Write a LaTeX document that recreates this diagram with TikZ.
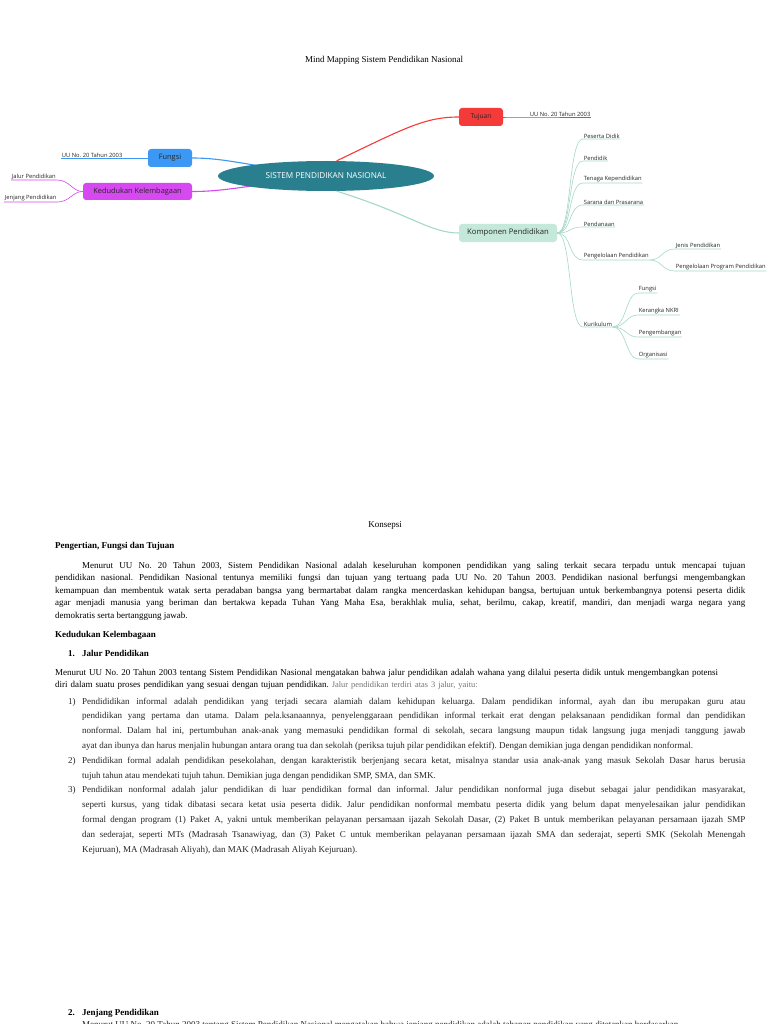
\documentclass[tikz,border=0pt]{standalone}
\usepackage{fontspec}
\setmainfont{Liberation Serif}
\newfontfamily\mapsf{Open Sans}
\usetikzlibrary{shapes.geometric,positioning,backgrounds,calc}
\definecolor{teal1}{RGB}{42,127,143}
\definecolor{blue1}{RGB}{60,152,245}
\definecolor{mag1}{RGB}{214,72,240}
\definecolor{red1}{RGB}{245,58,58}
\definecolor{mint1}{RGB}{196,232,217}
\definecolor{mint2}{RGB}{165,216,200}
\newcommand\bodyf{\fontsize{9}{12.5}\selectfont\spaceskip=.25em plus .6em minus .12em\relax}
\newcommand\listf{\fontsize{9}{14.8}\selectfont\spaceskip=.25em plus .6em minus .12em\relax}
\frenchspacing

\begin{document}
\begin{tikzpicture}[x=1pt,y=-1pt,node distance=4pt]
\tikzstyle{B}=[rounded corners=3pt,minimum height=18pt,inner sep=0pt,font=\mapsf\fontsize{7.4}{8}\selectfont,text=black!85]
\tikzstyle{lf}=[inner sep=0.7pt,anchor=south west,font=\mapsf\fontsize{5.8}{6}\selectfont,text=black!85]
\tikzstyle{H}=[inner sep=0pt,anchor=base west,font=\bodyf\bfseries]
\tikzstyle{P}=[inner sep=0pt,anchor=base west,text width=690pt,align=justify,font=\bodyf]
\tikzstyle{Q}=[P,text width=663pt,font=\listf,text=black!85]
\tikzstyle{N}=[inner sep=0pt,anchor=base west,font=\listf,text=black!85]
\tikzstyle{M}=[line width=1.1pt]
\tikzstyle{S}=[line width=0.6pt]
\useasboundingbox (0,0) rectangle (768,1024);
\node[anchor=base,inner sep=0pt,font=\bodyf] (ttl) at (384,63) {Mind Mapping Sistem Pendidikan Nasional};
\node[ellipse,fill=teal1,minimum width=216pt,minimum height=30pt,inner sep=0pt,text=white,font=\mapsf\fontsize{8.2}{9}\selectfont] (sp) at (326,176) {SISTEM PENDIDIKAN NASIONAL};
\node[B,fill=blue1,minimum width=44pt] (fu) at (170,158) {Fungsi};
\node[B,fill=mag1,minimum width=109pt,minimum height=17pt] (kk) at (137.5,191.5) {Kedudukan Kelembagaan};
\node[B,fill=red1,minimum width=44pt,font=\mapsf\fontsize{6.6}{7}\selectfont] (tu) at (481,117) {Tujuan};
\node[B,fill=mint1,minimum width=98pt,font=\mapsf\fontsize{7.7}{8}\selectfont] (kp) at (508,233) {Komponen Pendidikan};
\node[lf] (fu1) at (61,158) {UU No. 20 Tahun 2003};
\node[lf] (kk1) at (11,180) {Jalur Pendidikan}; \node[lf] (kk2) at (4,202) {Jenjang Pendidikan};
\node[lf] (tu1) at (529,117) {UU No. 20 Tahun 2003};
\node[lf] (k1) at (583,139) {Peserta Didik}; \node[lf] (k2) at (583,161) {Pendidik};
\node[lf] (k3) at (583,183) {Tenaga Kependidikan}; \node[lf] (k4) at (583,205) {Sarana dan Prasarana};
\node[lf] (k5) at (583,227) {Pendanaan}; \node[lf] (k6) at (583,260) {Pengelolaan Pendidikan};
\node[lf] (k7) at (583,327) {Kurikulum};
\node[lf] (k61) at (675,249) {Jenis Pendidikan}; \node[lf] (k62) at (675,271) {Pengelolaan Program Pendidikan};
\node[lf] (k71) at (638,293) {Fungsi}; \node[lf] (k72) at (638,315) {Kerangka NKRI};
\node[lf] (k73) at (638,337) {Pengembangan}; \node[lf] (k74) at (638,359) {Organisasi};
\begin{pgfonlayer}{background}
\fill[white] (0,0) rectangle (768,1024);
\draw[M,blue1] (fu.east) .. controls (225,158) and (245,165) .. (sp.center);
\draw[M,mag1] (kk.east) .. controls (225,191.5) and (245,186) .. (sp.center);
\end{pgfonlayer}
\draw[M,red1] (sp.55) .. controls (405,128) and (425,117) .. (tu.west);
\draw[M,mint2] (sp.-55) .. controls (410,214) and (430,233) .. (kp.west);
\draw[S,blue1] (fu.west) -- (fu1.south west);
\draw[S,mag1] (kk.west) .. controls (72,191.5) and (70,180) .. (kk1.south east) -- (kk1.south west);
\draw[S,mag1] (kk.west) .. controls (72,191.5) and (70,202) .. (kk2.south east) -- (kk2.south west);
\draw[S,red1] (tu.east) .. controls (515,117) and (517,117) .. (tu1.south west) -- (tu1.south east);
\draw[S,mint2] (kp.east) .. controls (572,233) and (568,139) .. (k1.south west) -- (k1.south east);
\draw[S,mint2] (kp.east) .. controls (572,233) and (568,161) .. (k2.south west) -- (k2.south east);
\draw[S,mint2] (kp.east) .. controls (572,233) and (568,183) .. (k3.south west) -- (k3.south east);
\draw[S,mint2] (kp.east) .. controls (572,233) and (568,205) .. (k4.south west) -- (k4.south east);
\draw[S,mint2] (kp.east) .. controls (572,233) and (568,227) .. (k5.south west) -- (k5.south east);
\draw[S,mint2] (kp.east) .. controls (572,233) and (568,260) .. (k6.south west) -- (k6.south east);
\draw[S,mint2] (kp.east) .. controls (572,233) and (568,327) .. (k7.south west) -- (k7.south east);
\draw[S,mint2] (k6.south east) .. controls (662,260) and (662,249) .. (k61.south west) -- (k61.south east);
\draw[S,mint2] (k6.south east) .. controls (662,260) and (662,271) .. (k62.south west) -- (k62.south east);
\draw[S,mint2] (k7.south east) .. controls (626,327) and (626,293) .. (k71.south west) -- (k71.south east);
\draw[S,mint2] (k7.south east) .. controls (626,327) and (626,315) .. (k72.south west) -- (k72.south east);
\draw[S,mint2] (k7.south east) .. controls (626,327) and (626,337) .. (k73.south west) -- (k73.south east);
\draw[S,mint2] (k7.south east) .. controls (626,327) and (626,359) .. (k74.south west) -- (k74.south east);
\node[anchor=base,inner sep=0pt,font=\bodyf] (ks) at (385,527) {Konsepsi};
\node[H] (h1) at (55,548) {Pengertian, Fungsi dan Tujuan};
\node[P] (p1) at (55,568) {\hspace*{27pt}Menurut UU No. 20 Tahun 2003, Sistem Pendidikan Nasional adalah keseluruhan komponen pendidikan yang saling terkait secara terpadu untuk mencapai tujuan\linebreak pendidikan nasional. Pendidikan Nasional tentunya memiliki fungsi dan tujuan yang tertuang pada UU No. 20 Tahun 2003. Pendidikan nasional berfungsi mengembangkan\linebreak kemampuan dan membentuk watak serta peradaban bangsa yang bermartabat dalam rangka mencerdaskan kehidupan bangsa, bertujuan untuk berkembangnya potensi peserta didik\linebreak agar menjadi manusia yang beriman dan bertakwa kepada Tuhan Yang Maha Esa, berakhlak mulia, sehat, berilmu, cakap, kreatif, mandiri, dan menjadi warga negara yang\linebreak demokratis serta bertanggung jawab.};
\node[H] (h2) at (55,637) {Kedudukan Kelembagaan};
\node[H] (h3) at (68,656) {\makebox[14pt][l]{1.}Jalur Pendidikan};
\node[P,text width=712pt,align=left] (p2) at (55,675) {Menurut UU No. 20 Tahun 2003 tentang Sistem Pendidikan Nasional mengatakan bahwa jalur pendidikan adalah wahana yang dilalui peserta didik untuk mengembangkan potensi\\ diri dalam suatu proses pendidikan yang sesuai dengan tujuan pendidikan. {\color{black!55}\fontsize{8.4}{11}\selectfont Jalur pendidikan terdiri atas 3 jalur, yaitu:}};
\node[N] (n1) at (68,704) {1)};
\node[Q] (i1) at (82,704) {Pendididikan informal adalah pendidikan yang terjadi secara alamiah dalam kehidupan keluarga. Dalam pendidikan informal, ayah dan ibu merupakan guru atau\linebreak pendidikan yang pertama dan utama. Dalam pela.ksanaannya, penyelenggaraan pendidikan informal terkait erat dengan pelaksanaan pendidikan formal dan pendidikan\linebreak nonformal. Dalam hal ini, pertumbuhan anak-anak yang memasuki pendidikan formal di sekolah, secara langsung maupun tidak langsung juga menjadi tanggung jawab\linebreak ayat dan ibunya dan harus menjalin hubungan antara orang tua dan sekolah (periksa tujuh pilar pendidikan efektif). Dengan demikian juga dengan pendidikan nonformal.};
\node[N] (n2) at (68,763.2) {2)};
\node[Q] (i2) at (82,763.2) {Pendidikan formal adalah pendidikan pesekolahan, dengan karakteristik berjenjang secara ketat, misalnya standar usia anak-anak yang masuk Sekolah Dasar harus berusia\linebreak tujuh tahun atau mendekati tujuh tahun. Demikian juga dengan pendidikan SMP, SMA, dan SMK.};
\node[N] (n3) at (68,792.8) {3)};
\node[Q] (i3) at (82,792.8) {Pendidikan nonformal adalah jalur pendidikan di luar pendidikan formal dan informal. Jalur pendidikan nonformal juga disebut sebagai jalur pendidikan masyarakat,\linebreak seperti kursus, yang tidak dibatasi secara ketat usia peserta didik. Jalur pendidikan nonformal membatu peserta didik yang belum dapat menyelesaikan jalur pendidikan\linebreak formal dengan program (1) Paket A, yakni untuk memberikan pelayanan persamaan ijazah Sekolah Dasar, (2) Paket B untuk memberikan pelayanan persamaan ijazah SMP\linebreak dan sederajat, seperti MTs (Madrasah Tsanawiyag, dan (3) Paket C untuk memberikan pelayanan persamaan ijazah SMA dan sederajat, seperti SMK (Sekolah Menengah\linebreak Kejuruan), MA (Madrasah Aliyah), dan MAK (Madrasah Aliyah Kejuruan).};
\node[H] (h4) at (68,1015) {\makebox[14pt][l]{2.}Jenjang Pendidikan};
\node[N] (p3) at (82,1027) {Menurut UU No. 20 Tahun 2003 tentang Sistem Pendidikan Nasional mengatakan bahwa jenjang pendidikan adalah tahapan pendidikan yang ditetapkan berdasarkan};
\end{tikzpicture}
\end{document}
